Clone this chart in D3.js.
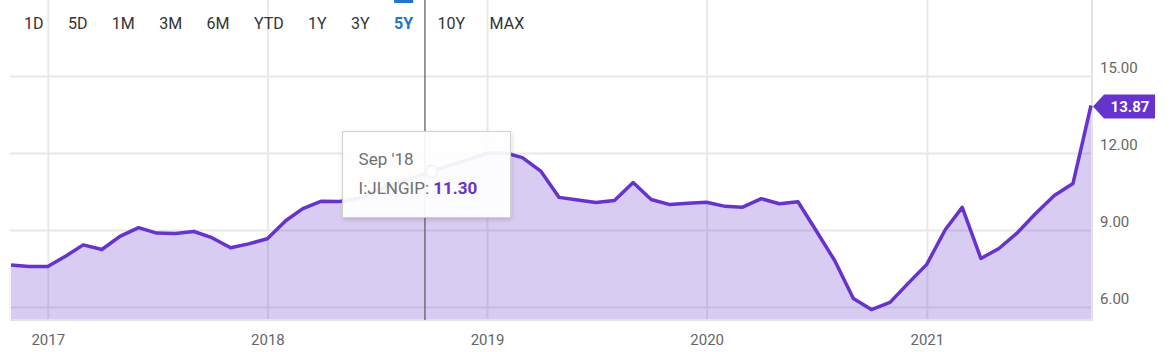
<!DOCTYPE html>
<html>
<head>
<meta charset="utf-8">
<script src="https://cdn.jsdelivr.net/npm/d3@7"></script>
<style>
  body { margin: 0; background: #fff; }
  text { font-family: Roboto, "Open Sans", sans-serif; }
</style>
</head>
<body>
<div id="chart"></div>
<script>
// Monthly observations (month-end)
const months = [
  "2016-10", "2016-11", "2016-12",
  "2017-01", "2017-02", "2017-03", "2017-04", "2017-05", "2017-06",
  "2017-07", "2017-08", "2017-09", "2017-10", "2017-11", "2017-12",
  "2018-01", "2018-02", "2018-03", "2018-04", "2018-05", "2018-06",
  "2018-07", "2018-08", "2018-09", "2018-10", "2018-11", "2018-12",
  "2019-01", "2019-02", "2019-03", "2019-04", "2019-05", "2019-06",
  "2019-07", "2019-08", "2019-09", "2019-10", "2019-11", "2019-12",
  "2020-01", "2020-02", "2020-03", "2020-04", "2020-05", "2020-06",
  "2020-07", "2020-08", "2020-09", "2020-10", "2020-11", "2020-12",
  "2021-01", "2021-02", "2021-03", "2021-04", "2021-05", "2021-06",
  "2021-07", "2021-08", "2021-09"
];
const values = [
  7.66, 7.60, 7.60,
  8.02, 8.44, 8.26, 8.77, 9.11, 8.90,
  8.88, 8.96, 8.72, 8.33, 8.48, 8.68,
  9.39, 9.85, 10.14, 10.13, 10.25, 10.55,
  10.82, 11.05, 11.30, 11.55, 11.75, 12.02,
  12.02, 11.84, 11.30, 10.29, 10.19, 10.09,
  10.17, 10.87, 10.21, 10.01, 10.06, 10.10,
  9.94, 9.91, 10.24, 10.04, 10.12, 9.00,
  7.83, 6.35, 5.92, 6.20, 6.94, 7.68,
  9.04, 9.90, 7.91, 8.30, 8.92, 9.66,
  10.36, 10.83, 13.87
];
const yTicks = [6, 9, 12, 15];
const rangeButtons = ["1D", "5D", "1M", "3M", "6M", "YTD", "1Y", "3Y", "5Y", "10Y", "MAX"];
const activeButton = "5Y";
const seriesName = "I:JLNGIP";
const hoverMonth = "2018-09";
const cursorDate = "2018-09-19";

// Setup SVG dimensions
const W = 1173, H = 352;
const margin = { top: 0, right: 81, bottom: 32, left: 10 };
const width = W - margin.left - margin.right;
const height = H - margin.top - margin.bottom;

const purple = "#6633cc";
const gridColor = "#e8e8e8";
const labelColor = "#666";

const root = d3.select("#chart")
  .append("svg")
  .attr("width", W)
  .attr("height", H);

const defs = root.append("defs");
const shadow = defs.append("filter").attr("id", "shadow")
  .attr("x", "-10%").attr("y", "-10%").attr("width", "130%").attr("height", "140%");
shadow.append("feDropShadow")
  .attr("dx", 1).attr("dy", 2).attr("stdDeviation", 2)
  .attr("flood-color", "#000").attr("flood-opacity", 0.15);

const svg = root.append("g")
  .attr("transform", "translate(" + margin.left + "," + margin.top + ")");

// Parse month -> last day of month
const parseMonth = d3.timeParse("%Y-%m");
const monthEnd = m => d3.timeDay.offset(d3.timeMonth.offset(parseMonth(m), 1), -1);

const data = months.map((m, i) => ({ month: m, date: monthEnd(m), value: values[i] }));

// Scales
const x = d3.scaleTime()
  .domain(d3.extent(data, d => d.date))
  .range([1, width - 1]);
const y = d3.scaleLinear()
  .domain([6, 15])
  .range([307.5, 76.5]);

// Grid lines
const years = x.ticks(d3.timeYear.every(1));
svg.append("g")
  .selectAll("line")
  .data(years)
  .enter().append("line")
  .attr("x1", d => x(d)).attr("x2", d => x(d))
  .attr("y1", 0).attr("y2", height)
  .attr("stroke", gridColor).attr("stroke-width", 2);

svg.append("g")
  .selectAll("line")
  .data(yTicks)
  .enter().append("line")
  .attr("x1", 0).attr("x2", width)
  .attr("y1", d => y(d)).attr("y2", d => y(d))
  .attr("stroke", gridColor).attr("stroke-width", 2);

// Plot border (right + bottom + left)
svg.append("line")
  .attr("x1", width).attr("x2", width).attr("y1", 0).attr("y2", height + 1)
  .attr("stroke", "#e3e3e3").attr("stroke-width", 2);
svg.append("line")
  .attr("x1", 0).attr("x2", width + 1).attr("y1", height).attr("y2", height)
  .attr("stroke", "#e3e3e3").attr("stroke-width", 2);
svg.append("line")
  .attr("x1", 0).attr("x2", 0).attr("y1", y(6) - 40).attr("y2", height)
  .attr("stroke", "#ececec").attr("stroke-width", 1);

// Area + line
const area = d3.area()
  .x(d => x(d.date))
  .y0(height - 1)
  .y1(d => y(d.value))
  .curve(d3.curveLinear);

const line = d3.line()
  .x(d => x(d.date))
  .y(d => y(d.value))
  .curve(d3.curveLinear);

svg.append("path")
  .datum(data)
  .attr("d", area)
  .attr("fill", purple)
  .attr("fill-opacity", 0.25);

svg.append("path")
  .datum(data)
  .attr("d", line)
  .attr("fill", "none")
  .attr("stroke", purple)
  .attr("stroke-width", 3.5)
  .attr("stroke-linejoin", "round");

// Crosshair cursor
const cx = x(d3.timeParse("%Y-%m-%d")(cursorDate));
svg.append("line")
  .attr("x1", cx).attr("x2", cx)
  .attr("y1", 0).attr("y2", height)
  .attr("stroke", "#555").attr("stroke-width", 1.2);

// Hover point
const hp = data.find(d => d.month === hoverMonth);
const hx = x(hp.date), hy = y(hp.value);
svg.append("circle")
  .attr("cx", hx).attr("cy", hy).attr("r", 6)
  .attr("fill", "#fff").attr("stroke", purple).attr("stroke-width", 2);

// Tooltip
const tip = svg.append("g")
  .attr("transform", "translate(" + (hx - 89) + "," + (hy - 40) + ")");
tip.append("rect")
  .attr("width", 168).attr("height", 86)
  .attr("fill", "#fff").attr("fill-opacity", 0.93)
  .attr("stroke", "#d0d0d0").attr("stroke-width", 1)
  .attr("filter", "url(#shadow)");
tip.append("text")
  .attr("x", 16).attr("y", 34)
  .attr("font-size", 17)
  .attr("fill", "#707070")
  .text(d3.timeFormat("%b '%y")(hp.date));
const t2 = tip.append("text")
  .attr("x", 16).attr("y", 63)
  .attr("font-size", 17);
t2.append("tspan").attr("fill", "#707070").text(seriesName + ": ");
t2.append("tspan").attr("fill", purple).attr("font-weight", "bold").text(hp.value.toFixed(2));

// Right axis labels
svg.append("g")
  .selectAll("text")
  .data(yTicks)
  .enter().append("text")
  .attr("x", width + 8)
  .attr("y", d => y(d) - 4)
  .attr("font-size", 15)
  .attr("fill", labelColor)
  .text(d => d3.format(".2f")(d));

// Year labels
svg.append("g")
  .selectAll("text")
  .data(years)
  .enter().append("text")
  .attr("x", d => x(d))
  .attr("y", height + 25)
  .attr("text-anchor", "middle")
  .attr("font-size", 15)
  .attr("fill", labelColor)
  .text(d3.timeFormat("%Y"));

// Last value flag
const last = data[data.length - 1];
const fx = x(last.date) + 2, fy = y(last.value) + 1;
svg.append("path")
  .attr("d", "M" + fx + "," + fy + "L" + (fx + 11) + "," + (fy - 12) + "H" + (fx + 62) +
    "V" + (fy + 12) + "H" + (fx + 11) + "Z")
  .attr("fill", purple);
svg.append("text")
  .attr("x", fx + 37).attr("y", fy + 5.5)
  .attr("text-anchor", "middle")
  .attr("font-size", 15)
  .attr("font-weight", "bold")
  .attr("fill", "#fff")
  .text(last.value.toFixed(2));

// Range buttons
const btns = root.append("g");
let bx = 24;
rangeButtons.forEach(label => {
  const active = label === activeButton;
  const t = btns.append("text")
    .attr("x", bx).attr("y", 29)
    .attr("font-size", 16)
    .attr("font-weight", active ? "bold" : "normal")
    .attr("fill", active ? "#1f74cc" : "#333")
    .text(label);
  const w = t.node().getComputedTextLength();
  if (active) {
    btns.append("rect")
      .attr("x", bx).attr("y", 0)
      .attr("width", w).attr("height", 3)
      .attr("fill", "#1f74cc");
  }
  bx += w + 24.4;
});
</script>
</body>
</html>
